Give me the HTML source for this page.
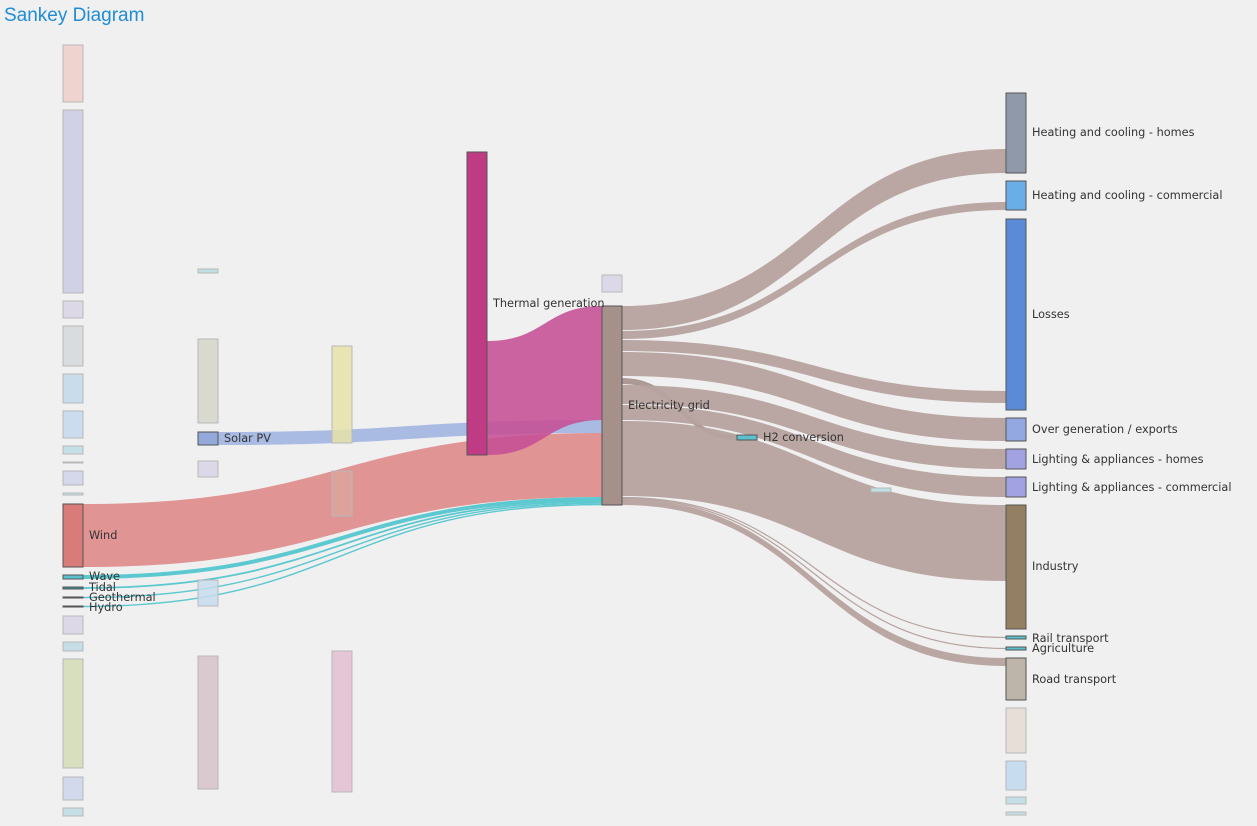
<!DOCTYPE html>
<html><head><meta charset="utf-8"><style>
html,body{margin:0;padding:0;background:#f0f0f0;width:1257px;height:826px;overflow:hidden}
svg{display:block}
text{font-family:"DejaVu Sans","Liberation Sans",sans-serif;font-size:11.3px;fill:#333}
</style></head><body>
<svg width="1257" height="826" viewBox="0 0 1257 826">
<rect width="1257" height="826" fill="#f0f0f0"/>
<text x="4" y="21" style="font-family:'Liberation Sans',sans-serif;font-size:19px;fill:#1f8dd6">Sankey Diagram</text>

<!-- links -->
<g fill="#b6a29e" fill-opacity="0.95">
<path d="M622,306 C814,306 814,149 1006,149 L1006,173 C814,173 814,330 622,330Z"/>
<path d="M622,331 C814,331 814,202 1006,202 L1006,210 C814,210 814,339 622,339Z"/>
<path d="M622,340 C814,340 814,391 1006,391 L1006,403 C814,403 814,351 622,351Z"/>
<path d="M622,352 C814,352 814,418 1006,418 L1006,441 C814,441 814,376 622,376Z"/>
<path d="M622,378 C680,378 680,435 737,435 L737,440 C680,440 680,384 622,384Z" fill="#a99590"/>
<path d="M622,385 C814,385 814,449 1006,449 L1006,469 C814,469 814,404 622,404Z"/>
<path d="M622,405 C814,405 814,477 1006,477 L1006,497 C814,497 814,420 622,420Z"/>
<path d="M622,421 C814,421 814,505 1006,505 L1006,581 C814,581 814,496 622,496Z"/>
<path d="M622,499 C814,499 814,658 1006,658 L1006,666 C814,666 814,505 622,505Z"/>
</g>
<g fill="none" stroke="#b6a29e">
<path d="M622,497.5 C814,497.5 814,637.5 1006,637.5" stroke-width="1.2"/>
<path d="M622,498.5 C814,498.5 814,648.5 1006,648.5" stroke-width="1.2"/>
</g>
<path d="M83,504 C342,504 342,433 602,433 L602,497 C342,497 342,567 83,567Z" fill="#df8e8e" fill-opacity="0.95"/>
<path d="M218,432 C410,432 410,420 602,420 L602,433 C410,433 410,445 218,445Z" fill="#9cb0e0" fill-opacity="0.85"/>
<path d="M487,341 C545,341 545,306 602,306 L602,420 C545,420 545,455 487,455Z" fill="#c54f95" fill-opacity="0.88"/>
<g fill="none" stroke="#5cc8d0">
<path d="M83,577 C342,577 342,499 602,499" stroke-width="4"/>
<path d="M83,588 C342,588 342,501.5 602,501.5" stroke-width="1.8"/>
<path d="M83,597.5 C342,597.5 342,503 602,503" stroke-width="1.4"/>
<path d="M83,606.5 C342,606.5 342,504.5 602,504.5" stroke-width="1.4"/>
</g>

<!-- faded nodes -->
<g stroke="#b8b8b8" stroke-width="1">
<rect x="63" y="45" width="20" height="57" fill="#eed3cf"/>
<rect x="63" y="110" width="20" height="183" fill="#d0d1e6"/>
<rect x="63" y="301" width="20" height="17" fill="#dcd8e8"/>
<rect x="63" y="326" width="20" height="40" fill="#d8dcdf"/>
<rect x="63" y="374" width="20" height="29" fill="#c8dcec"/>
<rect x="63" y="411" width="20" height="27" fill="#cbdcef"/>
<rect x="63" y="446" width="20" height="8" fill="#c5dfe6"/>
<rect x="63" y="462" width="20" height="1" fill="#a8b8b8"/>
<rect x="63" y="471" width="20" height="14" fill="#d5d8ea"/>
<rect x="63" y="493" width="20" height="2" fill="#c5e2e8"/>
<rect x="63" y="616" width="20" height="18" fill="#dcd8e8"/>
<rect x="63" y="642" width="20" height="9" fill="#c5dde6"/>
<rect x="63" y="659" width="20" height="109" fill="#d8dfbf"/>
<rect x="63" y="777" width="20" height="23" fill="#d3d9ec"/>
<rect x="63" y="808" width="20" height="8" fill="#c5dfe6"/>
<rect x="198" y="269" width="20" height="4" fill="#bfe0e3"/>
<rect x="198" y="339" width="20" height="84" fill="#d9d9cf"/>
<rect x="198" y="461" width="20" height="16" fill="#dcd8e8"/>
<rect x="198" y="580" width="20" height="26" fill="#c8dcef" fill-opacity="0.85"/>
<rect x="198" y="656" width="20" height="133" fill="#dcc8cf"/>
<rect x="332" y="346" width="20" height="97" fill="#e8e2a8" fill-opacity="0.85"/>
<rect x="332" y="471" width="20" height="45" fill="#dca8a0" fill-opacity="0.7"/>
<rect x="332" y="651" width="20" height="141" fill="#e5c6d6"/>
<rect x="602" y="275" width="20" height="17" fill="#dcd8e8"/>
<rect x="871" y="488" width="20" height="4" fill="#bfe0e3"/>
<rect x="1006" y="708" width="20" height="45" fill="#e6ded7"/>
<rect x="1006" y="761" width="20" height="29" fill="#c8dcef"/>
<rect x="1006" y="797" width="20" height="7" fill="#c5dfe6"/>
<rect x="1006" y="812" width="20" height="3" fill="#c5dfe6"/>
</g>

<!-- main nodes -->
<g stroke="#555" stroke-width="1">
<rect x="63" y="504" width="20" height="63" fill="#d97b79"/>
<rect x="63" y="575" width="20" height="4" fill="#5bc0cf"/>
<rect x="63" y="587" width="20" height="2" fill="#3a8f98"/>
<rect x="63" y="597" width="20" height="1" fill="#3a6f78"/>
<rect x="63" y="606" width="20" height="1" fill="#3a6f78"/>
<rect x="198" y="432" width="20" height="13" fill="#93a9d9"/>
<rect x="467" y="152" width="20" height="303" fill="#bf3c85"/>
<rect x="602" y="306" width="20" height="199" fill="#a6918a"/>
<rect x="737" y="435" width="20" height="5" fill="#5bc0cf"/>
<rect x="1006" y="93" width="20" height="80" fill="#8f99aa"/>
<rect x="1006" y="181" width="20" height="29" fill="#6aaee8"/>
<rect x="1006" y="219" width="20" height="191" fill="#5b8bd6"/>
<rect x="1006" y="418" width="20" height="23" fill="#93a7e0"/>
<rect x="1006" y="449" width="20" height="20" fill="#a2a2e2"/>
<rect x="1006" y="477" width="20" height="20" fill="#a2a2e2"/>
<rect x="1006" y="505" width="20" height="124" fill="#938062"/>
<rect x="1006" y="636" width="20" height="3" fill="#5bc0cf"/>
<rect x="1006" y="647" width="20" height="3" fill="#5bc0cf"/>
<rect x="1006" y="658" width="20" height="42" fill="#bdb4aa"/>
</g>

<!-- labels -->
<text x="89" y="539">Wind</text>
<text x="89" y="580">Wave</text>
<text x="89" y="591">Tidal</text>
<text x="89" y="601">Geothermal</text>
<text x="89" y="611">Hydro</text>
<text x="224" y="442">Solar PV</text>
<text x="493" y="307">Thermal generation</text>
<text x="628" y="409">Electricity grid</text>
<text x="763" y="441">H2 conversion</text>
<text x="1032" y="136">Heating and cooling - homes</text>
<text x="1032" y="199">Heating and cooling - commercial</text>
<text x="1032" y="318">Losses</text>
<text x="1032" y="433">Over generation / exports</text>
<text x="1032" y="463">Lighting &amp; appliances - homes</text>
<text x="1032" y="491">Lighting &amp; appliances - commercial</text>
<text x="1032" y="570">Industry</text>
<text x="1032" y="642">Rail transport</text>
<text x="1032" y="652">Agriculture</text>
<text x="1032" y="683">Road transport</text>
</svg>
</body></html>
